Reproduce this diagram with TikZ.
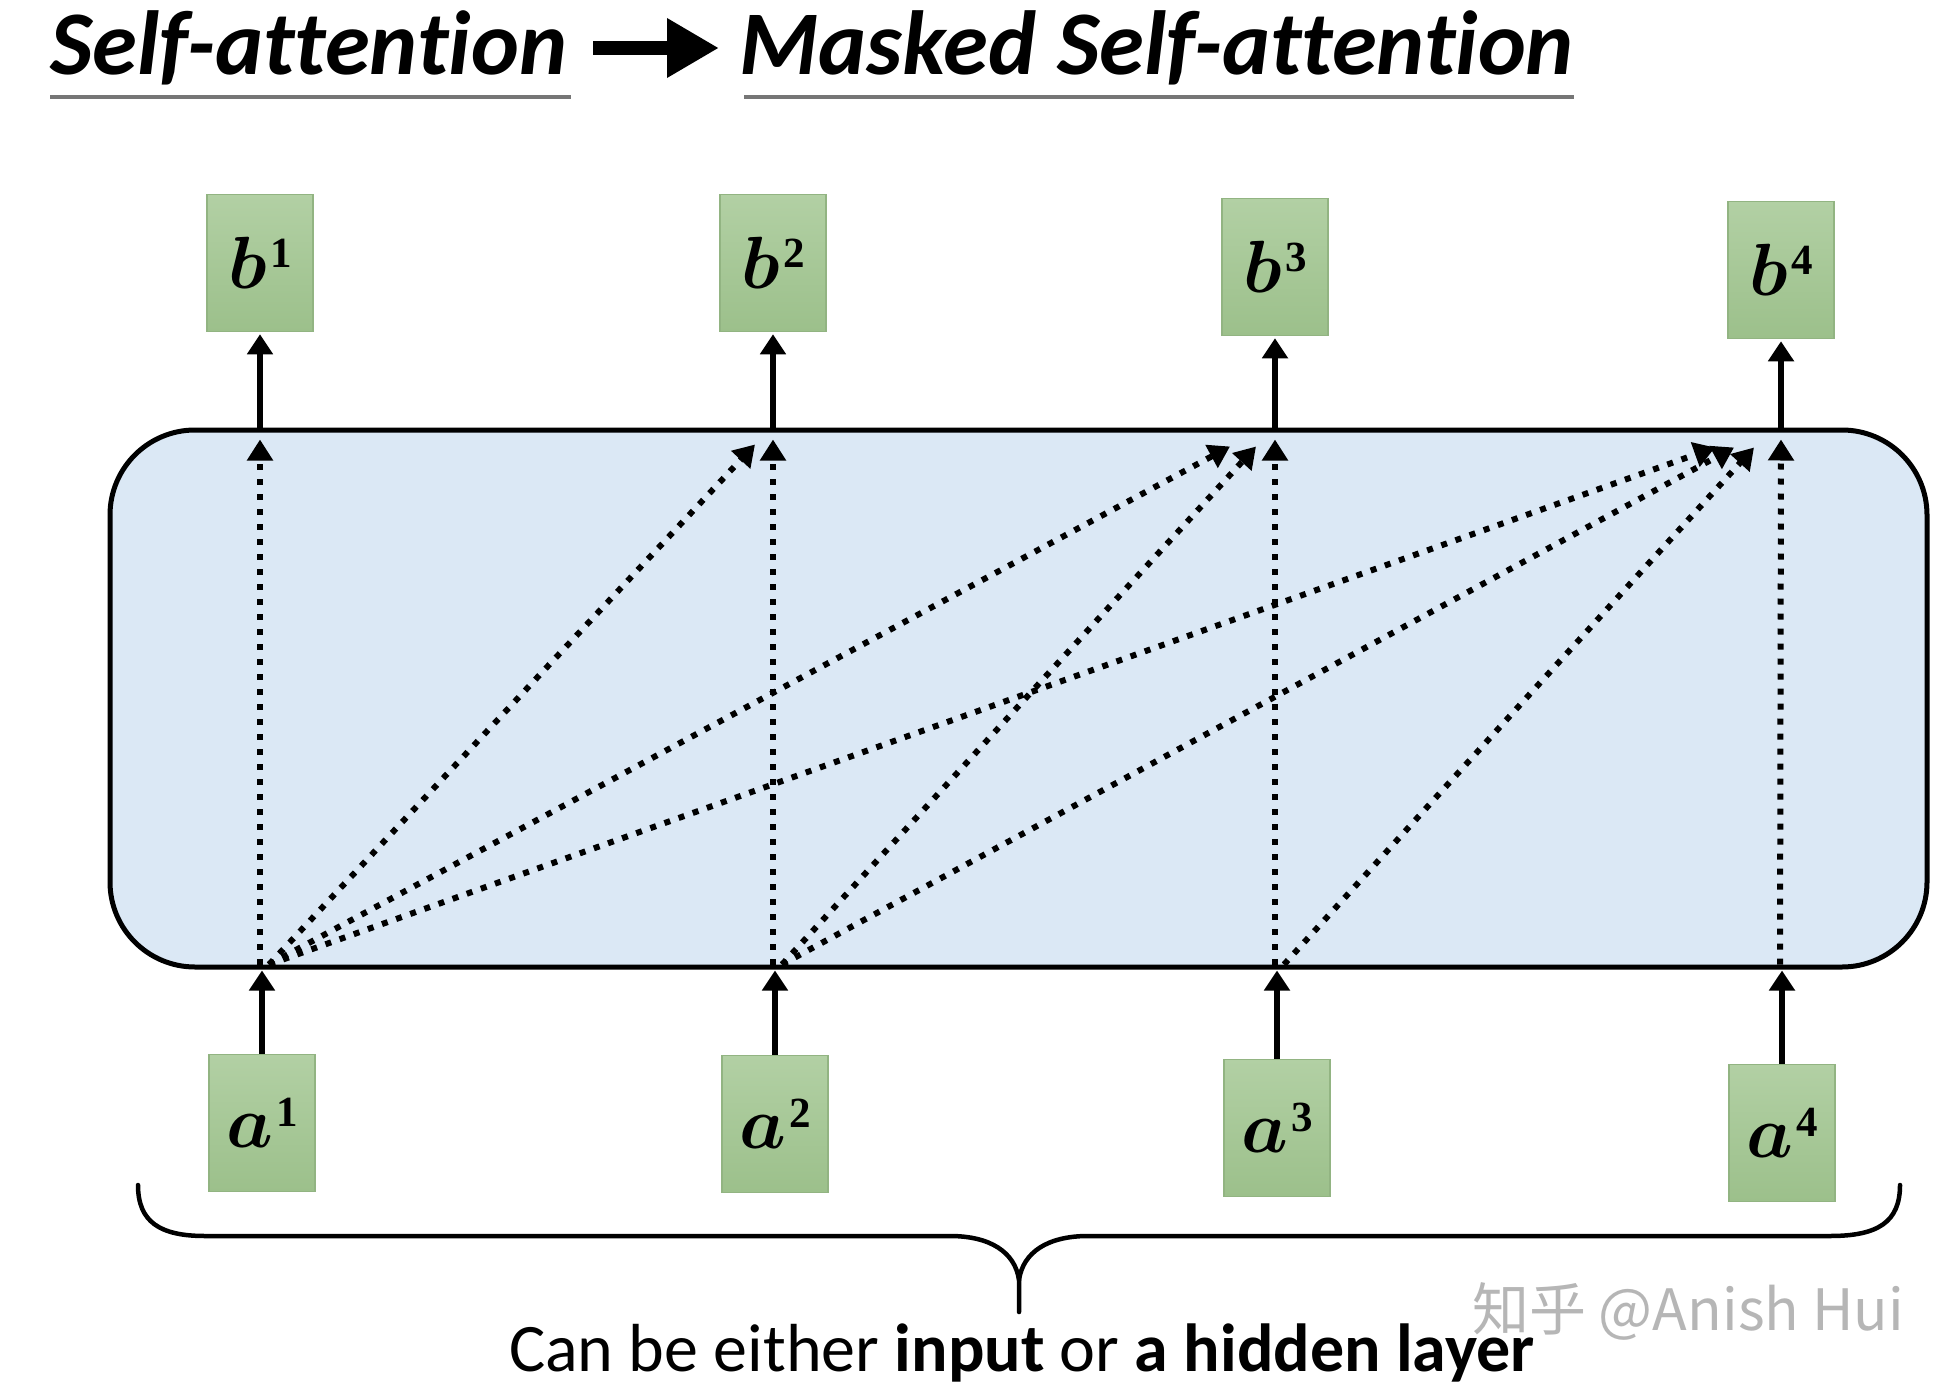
\RequirePackage{fix-cm}
\documentclass[tikz,border=0pt]{standalone}
\usepackage{fontspec}
\usepackage{amsmath}
\setmainfont{Carlito}[Ligatures=NoCommon]
\newfontfamily\wmfont{Noto Sans CJK SC}
\newfontfamily\digitfont{Liberation Serif}
\usetikzlibrary{arrows.meta,calc}
\definecolor{gtop}{RGB}{178,208,164}
\definecolor{gbot}{RGB}{156,192,139}
\definecolor{gedge}{RGB}{146,180,130}
\definecolor{bluefill}{RGB}{219,232,245}
\definecolor{ulgray}{RGB}{118,118,118}
\definecolor{wmgray}{RGB}{182,182,182}
\newcommand{\vlab}[2]{{\fontsize{74}{74}\selectfont$\boldsymbol{#1}$}\kern3pt\raisebox{21pt}{\fontsize{43}{43}\selectfont\digitfont\bfseries #2}}
\begin{document}
\begin{tikzpicture}[x=1pt,y=-1pt,
  vec/.style={draw=gedge,line width=1.5pt,top color=gtop,bottom color=gbot,
    minimum width=106pt,minimum height=137pt,inner sep=0pt},
  attbox/.style={draw=black,line width=5pt,fill=bluefill,rounded corners=85pt,
    minimum width=1817pt,minimum height=537pt,inner sep=0pt},
  solidarr/.style={line width=5.5pt,-{Triangle[width=25pt,length=20pt]}},
  dotarr/.style={line width=6pt,dash pattern=on 6pt off 9pt,-{Triangle[width=25pt,length=21pt]}},
  tarrow/.style={line width=14pt,-{Triangle[width=56pt,length=52pt]}},
  uline/.style={draw=ulgray,line width=4pt},
  brace/.style={line width=4.5pt,line cap=round},
  ttl/.style={inner sep=0pt,font=\fontsize{91}{91}\selectfont\bfseries\itshape}]
\useasboundingbox (0,0) rectangle (1954,1388);
\fill[white] (0,0) rectangle (1954,1388);

% title
\node[ttl,anchor=base west] (t1) at (50,75) {Self-attention};
\node[ttl,anchor=base west] (t2) at (739,75) {Masked Self-attention};
\draw[uline] (t1.base west |- 0,97) -- ($(t1.base east |- 0,97)+(4,0)$);
\draw[uline] ($(t2.base west |- 0,97)+(5,0)$) -- (t2.base east |- 0,97);
\draw[tarrow] ($(t1.base east)+(26,-27)$) -- ($(t2.base west)+(-20,-27)$);

% big box
\node[attbox] (att) at (1018.5,698.5) {};

% output vectors
\node[vec] (b1) at (260,263) {\vlab{b}{1}};
\node[vec] (b2) at (773,263) {\vlab{b}{2}};
\node[vec] (b3) at (1275,267) {\vlab{b}{3}};
\node[vec] (b4) at (1781,270) {\vlab{b}{4}};
% input vectors
\node[vec] (a1) at (262,1123) {\vlab{a}{1}};
\node[vec] (a2) at (775,1124) {\vlab{a}{2}};
\node[vec] (a3) at (1277,1128) {\vlab{a}{3}};
\node[vec] (a4) at (1782,1133) {\vlab{a}{4}};

% column coordinates on the box
\coordinate (top1) at (b1.south |- att.north);
\coordinate (top2) at (b2.south |- att.north);
\coordinate (top3) at (b3.south |- att.north);
\coordinate (top4) at (b4.south |- att.north);
\coordinate (bot1) at (a1.north |- att.south);
\coordinate (bot2) at (a2.north |- att.south);
\coordinate (bot3) at (a3.north |- att.south);
\coordinate (bot4) at (a4.north |- att.south);

% solid arrows
\foreach \i in {1,2,3,4} {
  \draw[solidarr,shorten >=2pt] (top\i) -- (b\i.south);
  \draw[solidarr,shorten >=1pt] (a\i.north) -- (bot\i);
}

% dotted (masked) attention arrows
\foreach \i in {1,2,3,4} {
  \draw[dotarr] ($(bot\i)+(-2,-5)$) -- ($(top\i)+(0,12)$);
}
\draw[dotarr] ($(bot1)+(7,-5)$) -- ($(top2)+(-18,17)$);
\draw[dotarr] ($(bot1)+(7,-5)$) -- ($(top3)+(-45,19)$);
\draw[dotarr] ($(bot1)+(7,-5)$) -- ($(top4)+(-66,20)$);
\draw[dotarr] ($(bot2)+(7,-5)$) -- ($(top3)+(-19,19)$);
\draw[dotarr] ($(bot2)+(7,-5)$) -- ($(top4)+(-47,20)$);
\draw[dotarr] ($(bot3)+(7,-5)$) -- ($(top4)+(-27,20)$);

% brace
\coordinate (brL) at (138,1185);
\coordinate (brR) at (1900,1185);
\coordinate (brM) at (1019,1280);
\coordinate (brT) at (1019,1312);
\draw[brace] (brL) .. controls (138,1222) and (160,1236) .. (205,1236) -- (950,1236)
   .. controls (990,1236) and (1015,1252) .. (brM) -- (brT);
\draw[brace] (brM) .. controls (1023,1252) and (1048,1236) .. (1088,1236) -- (1830,1236)
   .. controls (1878,1236) and (1900,1222) .. (brR);

% caption
\node[anchor=base,inner sep=0pt,font=\fontsize{68}{68}\selectfont] (cap) at (1022,1371)
  {Can be either \textbf{input} or \textbf{a hidden layer}};

% watermark
\node[anchor=base west,inner sep=0pt,text=wmgray,font=\fontsize{57}{57}\selectfont\wmfont] (wm) at (1472,1330)
  {知乎 @Anish Hui};
\end{tikzpicture}
\end{document}
